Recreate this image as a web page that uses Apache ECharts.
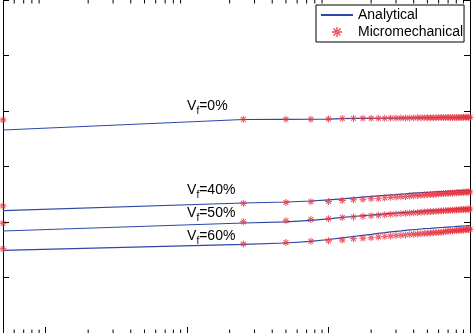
<!DOCTYPE html>
<html>
<head>
<meta charset="utf-8">
<script src="https://cdn.jsdelivr.net/npm/echarts@6/dist/echarts.min.js"></script>
<style>
html,body{margin:0;padding:0;background:#fff;}
#c{width:474px;height:333px;}
</style>
</head>
<body>
<div id="c"></div>
<script>
// ---- data ----
const xValues = [0.5, 25, 50, 75, 100, 125, 150, 175, 200, 225, 250, 275, 300, 325, 350, 375, 400, 425, 450, 475, 500, 525, 550, 575, 600, 625, 650, 675, 700, 725, 750, 775, 800, 825, 850, 875, 900, 925, 950, 975, 1000];

const analytical0 = [3.658, 3.847, 3.849, 3.851, 3.855, 3.862, 3.866, 3.867, 3.868, 3.869, 3.870, 3.871, 3.872, 3.873, 3.874, 3.875, 3.876, 3.876, 3.877, 3.877, 3.878, 3.879, 3.879, 3.880, 3.880, 3.881, 3.881, 3.882, 3.882, 3.883, 3.883, 3.884, 3.884, 3.884, 3.885, 3.885, 3.885, 3.886, 3.886, 3.887, 3.887];
const micro0 = [3.838, 3.850, 3.850, 3.852, 3.856, 3.863, 3.867, 3.868, 3.868, 3.870, 3.870, 3.872, 3.872, 3.874, 3.874, 3.876, 3.876, 3.877, 3.877, 3.877, 3.879, 3.879, 3.880, 3.880, 3.881, 3.881, 3.882, 3.882, 3.883, 3.883, 3.883, 3.884, 3.884, 3.885, 3.885, 3.885, 3.886, 3.886, 3.887, 3.887, 3.888];

const analytical40 = [2.204, 2.342, 2.360, 2.378, 2.398, 2.418, 2.434, 2.449, 2.461, 2.472, 2.481, 2.488, 2.495, 2.503, 2.508, 2.514, 2.519, 2.523, 2.528, 2.532, 2.535, 2.537, 2.541, 2.542, 2.546, 2.548, 2.550, 2.553, 2.555, 2.557, 2.559, 2.560, 2.562, 2.564, 2.566, 2.566, 2.568, 2.569, 2.571, 2.571, 2.573];
const micro40 = [2.288, 2.337, 2.351, 2.364, 2.369, 2.386, 2.400, 2.411, 2.418, 2.425, 2.434, 2.445, 2.450, 2.456, 2.461, 2.467, 2.472, 2.477, 2.481, 2.486, 2.490, 2.494, 2.497, 2.501, 2.505, 2.508, 2.512, 2.514, 2.517, 2.519, 2.523, 2.524, 2.526, 2.530, 2.532, 2.533, 2.535, 2.537, 2.539, 2.541, 2.542];

const analytical50 = [1.838, 1.982, 2.004, 2.029, 2.056, 2.083, 2.099, 2.114, 2.126, 2.137, 2.146, 2.155, 2.162, 2.169, 2.175, 2.180, 2.186, 2.191, 2.196, 2.200, 2.204, 2.207, 2.211, 2.214, 2.218, 2.220, 2.223, 2.225, 2.229, 2.231, 2.232, 2.236, 2.238, 2.240, 2.241, 2.243, 2.245, 2.247, 2.249, 2.250, 2.252];
const micro50 = [1.977, 2.005, 2.023, 2.045, 2.058, 2.081, 2.092, 2.103, 2.114, 2.123, 2.132, 2.139, 2.146, 2.151, 2.157, 2.162, 2.168, 2.173, 2.177, 2.180, 2.184, 2.187, 2.191, 2.195, 2.198, 2.200, 2.204, 2.205, 2.209, 2.211, 2.213, 2.216, 2.218, 2.220, 2.222, 2.223, 2.225, 2.227, 2.229, 2.231, 2.232];

const analytical60 = [1.490, 1.598, 1.622, 1.652, 1.685, 1.715, 1.739, 1.760, 1.778, 1.795, 1.809, 1.822, 1.832, 1.841, 1.850, 1.858, 1.863, 1.868, 1.874, 1.879, 1.883, 1.886, 1.890, 1.894, 1.897, 1.901, 1.903, 1.906, 1.908, 1.912, 1.914, 1.915, 1.919, 1.921, 1.923, 1.926, 1.928, 1.930, 1.932, 1.935, 1.937];
const micro60 = [1.519, 1.604, 1.631, 1.652, 1.663, 1.676, 1.697, 1.706, 1.717, 1.730, 1.741, 1.748, 1.755, 1.762, 1.768, 1.773, 1.778, 1.784, 1.789, 1.795, 1.798, 1.802, 1.805, 1.809, 1.811, 1.816, 1.822, 1.827, 1.832, 1.836, 1.840, 1.843, 1.847, 1.850, 1.852, 1.856, 1.858, 1.861, 1.863, 1.867, 1.868];

const curveLabels = ['0%', '40%', '50%', '60%'];
const labelAnchorX = [10, 10, 10, 10];
const labelAnchorY = [4.07, 2.56, 2.135, 1.72];

const minorTickValues = [0.6, 0.7, 0.8, 0.9, 2, 3, 4, 5, 6, 7, 8, 9, 20, 30, 40, 50, 60, 70, 80, 90, 200, 300, 400, 500, 600, 700, 800, 900];

const X_MIN = 0.5, X_MAX = 1000, Y_MIN = 0, Y_MAX = 6, Y_STEP = 1;

// ---- chart ----
const LINE_COLOR = '#2c48a6';
const MARK_COLOR = '#e8323e';
const FONT = '"Liberation Sans", Arial, sans-serif';
const STAR = 'path://M-0.13,-1H0.13V1H-0.13Z M-1,-0.13H1V0.13H-1Z M-0.6,-0.78L0.78,0.6L0.6,0.78L-0.78,-0.6Z M-0.6,0.78L0.78,-0.6L0.6,-0.78L-0.78,0.6Z';
const CLEAR = 'rgba(0,0,0,0)';

const pair = (ys) => xValues.map((x, i) => [x, ys[i]]);

const chart = echarts.init(document.getElementById('c'), null, {renderer: 'canvas'});

const lineSeries = (ys) => ({
  name: 'Analytical', type: 'line', data: pair(ys), symbol: 'none', showSymbol: false,
  lineStyle: {color: LINE_COLOR, width: 1.2}, itemStyle: {color: LINE_COLOR},
  animation: false, z: 3
});
const markSeries = (ys) => ({
  name: 'Micromechanical', type: 'scatter', data: pair(ys), symbol: STAR, symbolSize: 7,
  itemStyle: {color: MARK_COLOR, opacity: 0.9}, animation: false, z: 4, clip: false
});

const axisCommon = {
  axisLine: {show: true, lineStyle: {color: '#000', width: 1}},
  axisTick: {show: true, inside: true, length: 6, lineStyle: {color: '#000'}},
  axisLabel: {show: false},
  splitLine: {show: false}
};

chart.setOption({
  animation: false,
  backgroundColor: '#fff',
  grid: {left: 3, right: 4, top: -0.5, bottom: 0, containLabel: false},
  xAxis: [
    Object.assign({type: 'log', logBase: 10, min: X_MIN, max: X_MAX, position: 'bottom'}, axisCommon),
    Object.assign({type: 'log', logBase: 10, min: X_MIN, max: X_MAX, position: 'top'}, axisCommon)
  ],
  yAxis: [
    Object.assign({type: 'value', min: Y_MIN, max: Y_MAX, interval: Y_STEP, position: 'left'}, axisCommon),
    Object.assign({type: 'value', min: Y_MIN, max: Y_MAX, interval: Y_STEP, position: 'right'}, axisCommon)
  ],
  legend: {
    left: 316, top: 5, orient: 'vertical',
    backgroundColor: '#fff', borderColor: '#000', borderWidth: 1, borderRadius: 0,
    padding: [3, 1, 3, 4], itemGap: 3, itemWidth: 32, itemHeight: 10,
    textStyle: {fontFamily: FONT, fontSize: 14, color: '#000'},
    data: [
      {name: 'Analytical', itemStyle: {color: CLEAR, borderColor: CLEAR, borderWidth: 0}},
      {name: 'Micromechanical', icon: STAR, itemStyle: {color: MARK_COLOR}}
    ]
  },
  series: [
    lineSeries(analytical0), lineSeries(analytical40), lineSeries(analytical50), lineSeries(analytical60),
    markSeries(micro0), markSeries(micro40), markSeries(micro50), markSeries(micro60),
    {
      type: 'custom', silent: true, clip: false, z: 5, animation: false,
      data: minorTickValues.map(v => [v, Y_MIN]),
      renderItem: (params, api) => {
        const x = api.coord([api.value(0), Y_MIN])[0];
        const cs = params.coordSys;
        const st = {stroke: '#000', lineWidth: 1};
        return {type: 'group', children: [
          {type: 'line', shape: {x1: x, y1: cs.y + cs.height, x2: x, y2: cs.y + cs.height - 3.5}, style: st},
          {type: 'line', shape: {x1: x, y1: cs.y, x2: x, y2: cs.y + 3.5}, style: st}
        ]};
      }
    }
  ]
});

// curve labels V_f=..%
const graphics = curveLabels.map((t, i) => {
  const p = chart.convertToPixel({gridIndex: 0}, [labelAnchorX[i], labelAnchorY[i]]);
  return {
    type: 'text', x: p[0], y: p[1], z: 10, silent: true,
    style: {
      text: '{a|V}{b|f}{a|=' + t + '}',
      verticalAlign: 'middle', align: 'left',
      rich: {
        a: {fontFamily: FONT, fontSize: 14, lineHeight: 16, verticalAlign: 'top', fill: '#000'},
        b: {fontFamily: FONT, fontSize: 10, lineHeight: 12, padding: [7, 0, 0, 0], verticalAlign: 'top', fill: '#000'}
      }
    }
  };
});
chart.setOption({graphic: graphics});
</script>
</body>
</html>
